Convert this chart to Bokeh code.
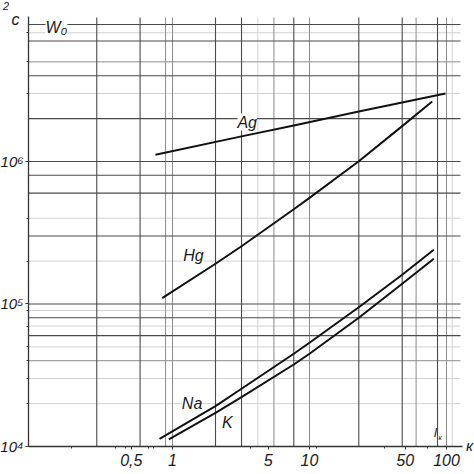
from bokeh.plotting import figure
from bokeh.models import FixedTicker, Label, LabelSet, ColumnDataSource, Range1d
from bokeh.core.properties import value
from bokeh.embed import file_html
from bokeh.resources import INLINE

# ---- data ----
ag_x = [0.751, 3.19, 7.68, 22.9, 98.3]
ag_y = [1.114e6, 1.50e6, 1.79e6, 2.24e6, 3.0e6]
hg_x = [0.841, 2.06, 3.19, 7.68, 10, 22.9, 47.5, 78.6]
hg_y = [1.098e5, 1.915e5, 2.544e5, 4.62e5, 5.55e5, 1.005e6, 1.77e6, 2.637e6]
na_x = [0.804, 2.06, 3.19, 7.68, 10, 22.9, 47.5, 80.8]
na_y = [1.133e4, 1.918e4, 2.541e4, 4.473e4, 5.342e4, 9.495e4, 1.603e5, 2.402e5]
k_x = [0.940, 2.06, 3.19, 7.68, 10, 22.9, 47.5, 80.8]
k_y = [1.12e4, 1.724e4, 2.218e4, 3.762e4, 4.473e4, 8.0e4, 1.386e5, 2.076e5]

curve_names = ["Ag", "Hg", "Na", "K"]
name_x = [3.51, 1.42, 1.39, 2.51]
name_y = [1.89e6, 2.19e5, 1.99e4, 1.48e4]

x_ticks = [0.5, 1, 5, 10, 50, 100]
x_tick_labels = ["0,5", "1", "5", "10", "50", "100"]
x_minor = [0.183, 0.383, 0.454, 0.668, 0.727, 3.71, 11.26, 35.3, 72.7]
y_ticks = [1e4, 1e5, 1e6]
y_tick_labels = ["10⁴", "10⁵", "10⁶"]

x_grid_dark = [0.28, 0.58, 2.06, 3.19, 7.68, 22.9, 47.5, 86]
x_grid_mid = [0.89, 1.0, 5.5, 10, 60, 100]
x_grid_light = [4.2, 110]
y_grid_dark = [6e4, 8e4, 1e5, 3e5, 6e5, 8e5, 1e6, 2e6, 4e6, 7e6, 9.14e6]
y_grid_mid = [4e4, 5e6]
y_grid_light = [2e4, 3e4, 5e4, 7e4, 9e4, 2e5, 4e5, 3e6, 8e6]

# extents of the axes (data units)
X_LO, X_HI = 0.0889, 130.9
Y_LO, Y_HI = 1e4, 1.041e7
GRID_X_HI, GRID_Y_HI = 126.5, 1.0245e7

FONT = "Liberation Sans"
INK = "#1a1a1a"

p = figure(width=474, height=474, x_axis_type="log", y_axis_type="log",
           x_range=Range1d(0.05552, 160.1), y_range=Range1d(6361, 1.348e7),
           output_backend="svg", toolbar_location=None,
           min_border=0, min_border_left=0, min_border_right=0,
           min_border_top=0, min_border_bottom=0)
p.outline_line_color = None
p.background_fill_color = "white"
p.border_fill_color = "white"
p.grid.visible = False

# grid lines, bounded by the axes
def hlines(vals, color, width):
    p.segment(x0=[X_LO] * len(vals), x1=[GRID_X_HI] * len(vals), y0=vals, y1=vals,
              line_color=color, line_width=width)

def vlines(vals, color, width):
    p.segment(x0=vals, x1=vals, y0=[Y_LO] * len(vals), y1=[GRID_Y_HI] * len(vals),
              line_color=color, line_width=width)

hlines(y_grid_light, "#d2d2d2", 1)
vlines(x_grid_light, "#d2d2d2", 1)
hlines(y_grid_mid, "#8c8c8c", 1)
vlines(x_grid_mid, "#8c8c8c", 1)
hlines(y_grid_dark, "#4a4a4a", 1.1)
vlines(x_grid_dark, "#4a4a4a", 1.1)

# axes, fixed at the data origin of the chart
xa = p.xaxis[0]
xa.fixed_location = Y_LO
xa.bounds = (X_LO, X_HI)
xa.ticker = FixedTicker(ticks=x_ticks, minor_ticks=x_minor)
xa.major_label_overrides = {float(t): s for t, s in zip(x_ticks, x_tick_labels)}
ya = p.yaxis[0]
ya.fixed_location = X_LO
ya.bounds = (Y_LO, Y_HI)
ya.ticker = FixedTicker(ticks=y_ticks, minor_ticks=y_grid_light + y_grid_mid)
ya.major_label_overrides = {float(t): s for t, s in zip(y_ticks, y_tick_labels)}
for ax in (xa, ya):
    ax.major_label_text_font = FONT
    ax.major_label_text_font_style = "italic"
    ax.major_label_text_color = INK
    ax.major_tick_out = 3
    ax.major_tick_in = 0
    ax.minor_tick_out = 2
    ax.minor_tick_in = 0
    ax.axis_line_color = "#333333"
    ax.axis_line_width = 1.3
    ax.major_tick_line_color = "#333333"
    ax.minor_tick_line_color = "#333333"
xa.major_label_text_font_size = "16px"
xa.major_label_standoff = 4
ya.major_label_text_font_size = "15px"
ya.major_label_standoff = 2

# curves
for xs, ys in [(ag_x, ag_y), (hg_x, hg_y), (na_x, na_y), (k_x, k_y)]:
    p.line(xs, ys, line_color="#111111", line_width=2, line_join="round")

# curve names
src = ColumnDataSource(dict(x=name_x, y=name_y, t=curve_names))
p.add_layout(LabelSet(x="x", y="y", text="t", source=src,
                      text_align="center", text_baseline="middle",
                      text_font=value(FONT), text_font_style="italic",
                      text_font_size=value("16px"), text_color=INK,
                      background_fill_color="white"))

def note(x, y, text, size, align="center", baseline="middle", yoff=0, bg=None):
    p.add_layout(Label(x=x, y=y, text=text, text_align=align, text_baseline=baseline,
                       y_offset=yoff, text_font=FONT, text_font_style="italic",
                       text_font_size=size, text_color=INK, background_fill_color=bg))

note(0.1183, 9.14e6, "W₀", "16px", align="left", yoff=-3, bg="white")
note(0.0715, 9.92e6, "c", "16px")
note(0.0609, 1.225e7, "2", "11px")
note(147, 1e4, "к", "15px", yoff=1)
note(83.2, 1.254e4, "l", "13px")
note(87.3, 1.157e4, "к", "7px", align="left")

open("out.html", "w").write(file_html(p, INLINE))
